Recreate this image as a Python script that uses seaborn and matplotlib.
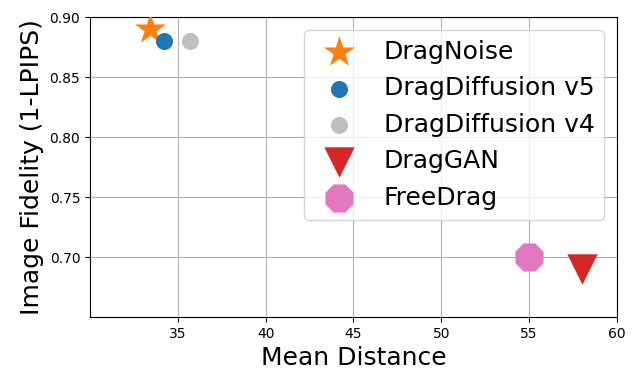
import matplotlib
matplotlib.use("Agg")
import matplotlib.pyplot as plt
import seaborn as sns
import pandas as pd

# methods and their scores
methods = ["DragNoise", "DragDiffusion v5", "DragDiffusion v4", "DragGAN", "FreeDrag"]
mean_distance = [33.4, 34.2, 35.7, 58.0, 55.0]
fidelity = [0.89, 0.88, 0.88, 0.69, 0.70]

colors = ["#ff7f0e", "#1f77b4", "#bfbfbf", "#d62728", "#e377c2"]
markers = ["*", "o", "o", "v", "8"]
sizes = [550, 150, 150, 480, 480]

df = pd.DataFrame({"method": methods, "dist": mean_distance, "fid": fidelity})

fig, ax = plt.subplots(figsize=(6.4, 3.73), dpi=100)
fig.subplots_adjust(left=0.1406, right=0.964, top=0.954, bottom=0.150)

for i, row in df.iterrows():
    sns.scatterplot(x=[row["dist"]], y=[row["fid"]], ax=ax, color=colors[i],
                    marker=markers[i], s=sizes[i], linewidth=0, label=row["method"],
                    zorder=3)

ax.set_xlim(30, 60)
ax.set_ylim(0.65, 0.90)
ax.set_xticks([35, 40, 45, 50, 55, 60])
ax.set_yticks([0.70, 0.75, 0.80, 0.85, 0.90])
ax.grid(True, color="#b0b0b0", linewidth=0.8)
ax.set_axisbelow(True)
ax.set_xlabel("Mean Distance", fontsize=18)
ax.set_ylabel("Image Fidelity (1-LPIPS)", fontsize=18)
ax.tick_params(labelsize=10)
ax.legend(loc="upper right", fontsize=18, markerscale=1)

fig.savefig("out.png", dpi=100)
